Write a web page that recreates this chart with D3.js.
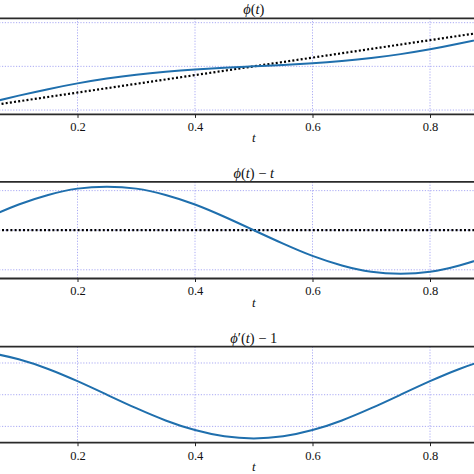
<!DOCTYPE html>
<html>
<head>
<meta charset="utf-8">
<script src="https://cdn.jsdelivr.net/npm/d3@7"></script>
<style>
  html, body { margin: 0; padding: 0; background: #fff; }
  svg { display: block; }
  text { font-family: "Liberation Serif", "DejaVu Serif", serif; fill: #111; }
</style>
</head>
<body>
<svg id="chart" width="474" height="474"></svg>
<script>
// ---- data ----
const tValues = [0, 0.05, 0.1, 0.15, 0.2, 0.25, 0.3, 0.35, 0.4, 0.45, 0.5,
                 0.55, 0.6, 0.65, 0.7, 0.75, 0.8, 0.85, 0.9, 0.95, 1];
const phiValues = [0, 0.084, 0.165, 0.239, 0.305, 0.36, 0.405, 0.439, 0.465, 0.484, 0.5,
                   0.516, 0.535, 0.561, 0.595, 0.64, 0.695, 0.761, 0.835, 0.916, 1];
const phiMinusT = [0, 0.034, 0.065, 0.089, 0.105, 0.11, 0.105, 0.089, 0.065, 0.034, 0,
                   -0.034, -0.065, -0.089, -0.105, -0.11, -0.105, -0.089, -0.065, -0.034, 0];
const dphiMinus1 = [0.69, 0.656, 0.558, 0.406, 0.213, 0, -0.213, -0.406, -0.558, -0.656, -0.69,
                    -0.656, -0.558, -0.406, -0.213, 0, 0.213, 0.406, 0.558, 0.656, 0.69];
const refIdentity = [0, 1];        // dotted y = t line (at t = 0 and t = 1)
const refIdentityT = [0, 1];
const refZero = [0, 0];            // dotted y = 0 line
const xTicks = [0.2, 0.4, 0.6, 0.8];
const yTicks1 = [0, 0.5, 1];
const yTicks2 = [-0.1, 0, 0.1];
const yTicks3 = [-0.5, 0, 0.5];
const titles = [["ϕ", "(", "t", ")"], ["ϕ", "(", "t", ") − ", "t"], ["ϕ", "′(", "t", ") − 1"]];

// ---- layout ----
const svg = d3.select("#chart");
const x = d3.scaleLinear().domain([0, 1]).range([-40, 547.5]);
const serif = '"Liberation Serif", "DejaVu Serif", serif';

const panels = [
  { top: 18.3, bottom: 114.4, ydom: [-0.05, 1.05], ticks: yTicks1, titleY: 8.5,
    series: phiValues, ref: { t: refIdentityT, v: refIdentity }, title: titles[0] },
  { top: 181.9, bottom: 278.5, ydom: [-0.122, 0.122], ticks: yTicks2, titleY: 172.7,
    series: phiMinusT, ref: { t: refIdentityT, v: refZero }, title: titles[1] },
  { top: 346.7, bottom: 442.7, ydom: [-0.757, 0.757], ticks: yTicks3, titleY: 337.7,
    series: dphiMinus1, ref: null, title: titles[2] }
];

const italic = new Set(["ϕ", "t"]);

panels.forEach((p, i) => {
  const y = d3.scaleLinear().domain(p.ydom).range([p.bottom, p.top]);
  const g = svg.append("g");
  const clipId = "clip" + i;
  g.append("clipPath").attr("id", clipId)
    .append("rect").attr("x", x.range()[0]).attr("y", p.top)
    .attr("width", x.range()[1] - x.range()[0]).attr("height", p.bottom - p.top);

  // grid
  g.append("g").selectAll("line").data(xTicks).join("line")
    .attr("x1", d => x(d)).attr("x2", d => x(d))
    .attr("y1", p.top).attr("y2", p.bottom)
    .attr("stroke", "#8a8af0").attr("stroke-opacity", 0.8)
    .attr("stroke-width", 0.9).attr("stroke-dasharray", "1.2,1.6");
  g.append("g").selectAll("line").data(p.ticks).join("line")
    .attr("x1", x.range()[0]).attr("x2", x.range()[1])
    .attr("y1", d => y(d)).attr("y2", d => y(d))
    .attr("stroke", "#8a8af0").attr("stroke-opacity", 0.8)
    .attr("stroke-width", 0.9).attr("stroke-dasharray", "1.2,1.6");

  const plot = g.append("g").attr("clip-path", `url(#${clipId})`);

  // reference dotted line
  if (p.ref) {
    const refData = p.ref.t.map((t, k) => [t, p.ref.v[k]]);
    plot.append("path").datum(refData)
      .attr("d", d3.line().x(d => x(d[0])).y(d => y(d[1])))
      .attr("fill", "none").attr("stroke", "#000")
      .attr("stroke-width", 2.2).attr("stroke-dasharray", "2,2.2");
  }

  // main curve
  const data = tValues.map((t, k) => [t, p.series[k]]);
  plot.append("path").datum(data)
    .attr("d", d3.line().curve(d3.curveNatural).x(d => x(d[0])).y(d => y(d[1])))
    .attr("fill", "none").attr("stroke", "#1f6fad").attr("stroke-width", 2);

  // spines (top and bottom)
  [p.top, p.bottom].forEach(yy => {
    g.append("line").attr("x1", 0).attr("x2", 474).attr("y1", yy).attr("y2", yy)
      .attr("stroke", "#2a2a2a").attr("stroke-width", 1.8);
  });

  // x axis ticks and labels
  const ax = d3.axisBottom(x).tickValues(xTicks).tickSize(3.5).tickPadding(4.5)
    .tickFormat(d3.format(".1f"));
  const axG = g.append("g").attr("transform", `translate(0,${p.bottom})`).call(ax);
  axG.attr("font-family", null).attr("font-size", null);
  axG.select(".domain").remove();
  axG.selectAll(".tick line").attr("stroke", "#222").attr("stroke-width", 1);
  axG.selectAll(".tick text").style("font-size", "12.5px")
    .style("font-family", serif).attr("fill", "#222");

  // x label
  g.append("text").attr("x", x(0.5)).attr("y", p.bottom + 28)
    .attr("text-anchor", "middle").style("font-size", "13px").attr("font-style", "italic")
    .text("t");

  // title
  const tt = g.append("text").attr("x", x(0.5)).attr("y", p.titleY).attr("dy", "0.35em")
    .attr("text-anchor", "middle").style("font-size", "14.5px");
  p.title.forEach(s => {
    tt.append("tspan").attr("font-style", italic.has(s) ? "italic" : "normal").text(s);
  });
});
</script>
</body>
</html>
